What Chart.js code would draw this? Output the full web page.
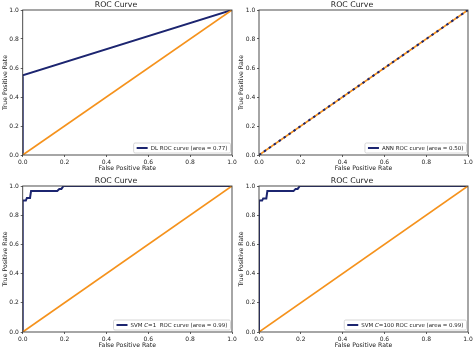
<!DOCTYPE html>
<html>
<head>
<meta charset="utf-8">
<script src="https://cdn.jsdelivr.net/npm/chart.js@4/dist/chart.umd.min.js"></script>
<style>
  html, body { margin: 0; padding: 0; background: #fff; width: 474px; height: 348px; overflow: hidden; }
  .panel { position: absolute; width: 240px; }
  #p1 { left: 0; top: 0; height: 172px; }
  #p2 { left: 236px; top: 0; height: 172px; }
  #p3 { left: 0; top: 172px; height: 177px; }
  #p4 { left: 236px; top: 172px; height: 177px; }
</style>
</head>
<body>
<div class="panel" id="p1"><canvas id="c1"></canvas></div>
<div class="panel" id="p2"><canvas id="c2"></canvas></div>
<div class="panel" id="p3"><canvas id="c3"></canvas></div>
<div class="panel" id="p4"><canvas id="c4"></canvas></div>
<script>
// chance line
const diagX = [0, 1];
const diagY = [0, 1];

// DL
const dlFpr = [0, 0, 1];
const dlTpr = [0, 0.55, 1];

// ANN
const annFpr = [0, 1];
const annTpr = [0, 1];

// SVM C=1
const svm1Fpr = [0, 0, 0.015, 0.02, 0.035, 0.04, 0.165, 0.175, 0.185, 0.195, 1];
const svm1Tpr = [0, 0.9, 0.9, 0.918, 0.918, 0.966, 0.966, 0.98, 0.98, 1, 1];

// SVM C=100
const svm100Fpr = [0, 0, 0.015, 0.02, 0.035, 0.04, 0.165, 0.175, 0.185, 0.195, 1];
const svm100Tpr = [0, 0.9, 0.9, 0.915, 0.915, 0.965, 0.965, 0.98, 0.98, 1, 1];

const xTicks = [0, 0.2, 0.4, 0.6, 0.8, 1.0];

const NAVY = "#1c2570";
const ORANGE = "#f5921c";
const FONT = "'DejaVu Sans', sans-serif";

function pts(xs, ys) {
  return xs.map((x, i) => ({ x: x, y: ys[i] }));
}

// 枠線（上下左右）
const frame = {
  id: "frame",
  afterDatasetsDraw(chart) {
    const a = chart.chartArea, ctx = chart.ctx;
    ctx.save();
    ctx.strokeStyle = "#3a3a3a";
    ctx.lineWidth = 0.9;
    ctx.strokeRect(a.left, a.top, a.right - a.left, a.bottom - a.top);
    ctx.restore();
  },
};

// 右下の凡例
const insideLegend = {
  id: "insideLegend",
  afterDraw(chart, args, opts) {
    const parts = opts.parts;
    if (!parts) return;
    const ctx = chart.ctx, a = chart.chartArea;
    const fs = 5.5;
    ctx.save();
    let w = 0;
    parts.forEach((p) => {
      ctx.font = (p.italic ? "italic " : "") + fs + "px " + FONT;
      p.w = ctx.measureText(p.t).width;
      w += p.w;
    });
    const bw = w + 20, bh = 10;
    const bx = a.right - 1.5 - bw, by = a.bottom - 2 - bh;
    ctx.fillStyle = "rgba(255,255,255,0.9)";
    ctx.strokeStyle = "#cccccc";
    ctx.lineWidth = 0.8;
    ctx.beginPath();
    ctx.roundRect(bx, by, bw, bh, 1.5);
    ctx.fill();
    ctx.stroke();
    ctx.strokeStyle = NAVY;
    ctx.lineWidth = 2;
    ctx.beginPath();
    ctx.moveTo(bx + 3, by + bh / 2);
    ctx.lineTo(bx + 14, by + bh / 2);
    ctx.stroke();
    ctx.fillStyle = "#222";
    ctx.textBaseline = "middle";
    let tx = bx + 17;
    parts.forEach((p) => {
      ctx.font = (p.italic ? "italic " : "") + fs + "px " + FONT;
      ctx.fillText(p.t, tx, by + bh / 2 + 0.3);
      tx += p.w;
    });
    ctx.restore();
  },
};

function makeConfig(fpr, tpr, parts, opt) {
  const axisCommon = (title) => ({
    type: "linear",
    min: 0,
    max: 1,
    afterBuildTicks: (s) => { s.ticks = xTicks.map((v) => ({ value: v })); },
    ticks: {
      callback: (v) => v.toFixed(1),
      font: { family: FONT, size: 6 },
      color: "#222",
      padding: 1.8,
      maxRotation: 0,
      autoSkip: false,
    },
    grid: { display: true, drawOnChartArea: false, drawTicks: true, tickLength: 2, color: "#3a3a3a", lineWidth: 0.8 },
    border: { display: false },
    title: { display: true, text: title, font: { family: FONT, size: 6.2 }, color: "#222" },
  });
  const x = axisCommon("False Positive Rate");
  x.title.padding = { top: 0, bottom: 0 };
  x.afterFit = (s) => { s.height = 17; };
  const y = axisCommon("True Positive Rate");
  y.title.padding = { top: 1.2, bottom: 0 };
  y.afterFit = (s) => { s.width = opt.yWidth; };

  return {
    type: "scatter",
    data: {
      datasets: [
        {
          label: "roc",
          data: pts(fpr, tpr),
          showLine: true,
          borderColor: NAVY,
          borderWidth: 2,
          borderDash: opt.dashed ? [2.5, 3.5] : [],
          pointRadius: 0,
          fill: false,
          order: opt.dashed ? 0 : 1,
        },
        {
          label: "chance",
          data: pts(diagX, diagY),
          showLine: true,
          borderColor: ORANGE,
          borderWidth: 1.7,
          pointRadius: 0,
          fill: false,
          order: opt.dashed ? 1 : 0,
        },
      ],
    },
    options: {
      responsive: true,
      maintainAspectRatio: false,
      animation: false,
      layout: { padding: { left: 0, right: 8, top: 0, bottom: 0 } },
      plugins: {
        legend: { display: false },
        tooltip: { enabled: false },
        title: {
          display: true,
          text: "ROC Curve",
          font: { family: FONT, size: 7.8, weight: "normal" },
          color: "#222",
          padding: { top: opt.titleTop, bottom: 0.64 },
        },
        insideLegend: { parts: parts },
      },
      scales: { x: x, y: y },
    },
    plugins: [frame, insideLegend],
  };
}

document.addEventListener("DOMContentLoaded", () => {
  new Chart("c1", makeConfig(dlFpr, dlTpr, [{ t: "DL ROC curve (area = 0.77)" }], { yWidth: 22.7, titleTop: 0 }));
  new Chart("c2", makeConfig(annFpr, annTpr, [{ t: "ANN ROC curve (area = 0.50)" }], { yWidth: 23, titleTop: 0, dashed: true }));
  new Chart("c3", makeConfig(svm1Fpr, svm1Tpr, [{ t: "SVM " }, { t: "C", italic: true }, { t: "=1  ROC curve (area = 0.99)" }], { yWidth: 22.7, titleTop: 4 }));
  new Chart("c4", makeConfig(svm100Fpr, svm100Tpr, [{ t: "SVM " }, { t: "C", italic: true }, { t: "=100 ROC curve (area = 0.99)" }], { yWidth: 23, titleTop: 4 }));
});
</script>
</body>
</html>
